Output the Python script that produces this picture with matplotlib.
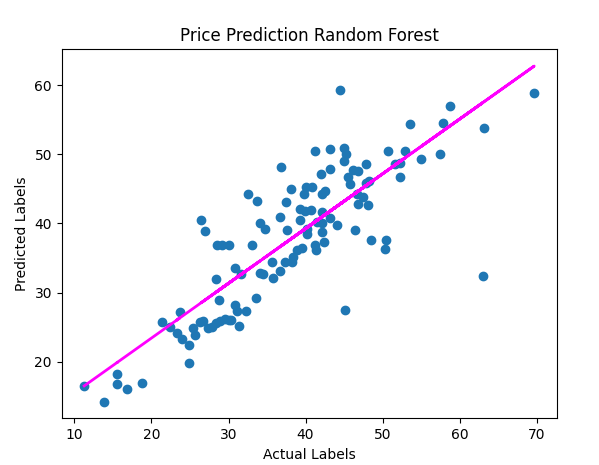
import numpy as np
import matplotlib
matplotlib.use("Agg")
import matplotlib.pyplot as plt

actual = [11.26, 13.77, 15.58, 15.51, 16.81, 18.83, 21.35, 22.34, 23.64, 23.25,
          23.90, 24.81, 24.81, 25.45, 25.68, 26.32, 26.71, 27.40, 27.88, 28.40,
          28.92, 29.57, 30.00, 30.35, 28.83, 28.40, 30.87, 31.65, 30.87, 31.13,
          32.21, 31.30, 33.53, 34.12, 28.57, 29.22, 30.00, 32.99, 26.45, 26.97,
          32.49, 33.66, 34.12, 34.68, 37.49, 36.63, 37.58, 39.30, 39.95, 40.73,
          39.30, 40.18, 41.26, 41.39, 38.88, 39.53, 38.40, 38.21, 37.36, 36.71,
          35.71, 35.74, 34.42, 45.17, 36.84, 41.26, 43.12, 44.94, 45.29, 44.94,
          43.21, 42.04, 46.23, 46.78, 47.88, 50.74, 52.95, 51.65, 52.30, 52.30,
          45.58, 45.74, 47.82, 48.31, 40.09, 40.83, 38.18, 39.74, 42.13, 42.56,
          46.71, 46.88, 48.18, 47.53, 42.08, 41.48, 42.17, 43.21, 44.03, 40.18,
          42.08, 46.45, 42.34, 48.57, 50.48, 50.29, 53.60, 57.92, 58.80, 63.21,
          69.70, 55.03, 57.49, 62.99, 44.42]
predicted = [16.50, 14.24, 18.18, 16.74, 16.02, 16.89, 25.68, 24.96, 27.12, 24.09,
             23.31, 22.36, 19.77, 24.81, 23.85, 25.76, 25.86, 24.81, 25.00, 25.62,
             25.91, 26.15, 26.01, 26.01, 28.99, 31.92, 33.60, 32.64, 28.27, 27.35,
             27.35, 25.14, 29.28, 32.78, 36.92, 36.92, 36.92, 36.92, 40.56, 38.88,
             44.27, 43.23, 40.03, 39.22, 43.05, 41.00, 38.98, 42.10, 41.79, 41.96,
             40.52, 38.40, 36.81, 36.10, 36.20, 36.48, 35.13, 34.41, 34.41, 33.07,
             34.37, 32.06, 32.74, 27.55, 48.10, 50.50, 50.75, 50.98, 50.03, 48.96,
             47.87, 47.15, 47.72, 47.55, 48.59, 50.50, 50.43, 48.59, 48.67, 46.66,
             46.66, 45.71, 45.89, 46.14, 45.22, 45.32, 44.99, 44.27, 44.31, 44.67,
             44.27, 42.82, 42.72, 43.80, 41.72, 40.17, 39.99, 40.81, 39.70, 39.22,
             38.69, 38.98, 37.25, 37.54, 37.54, 36.34, 54.35, 54.50, 56.99, 53.78,
             58.82, 49.31, 50.03, 32.39, 59.25]

fit_slope = 0.7915
fit_intercept = 7.59

x = np.array(actual)
y = np.array(predicted)

fig = plt.figure(figsize=(5.99, 4.65), dpi=100)
ax = fig.add_axes([61.7 / 599, 46.7 / 465, 495 / 599, 369 / 465])
ax.scatter(x, y)
ax.plot(x, fit_slope * x + fit_intercept, color="magenta", linewidth=2)
ax.set_title("Price Prediction Random Forest")
ax.set_xlabel("Actual Labels")
ax.set_ylabel("Predicted Labels")
fig.savefig("out.png", dpi=100)
